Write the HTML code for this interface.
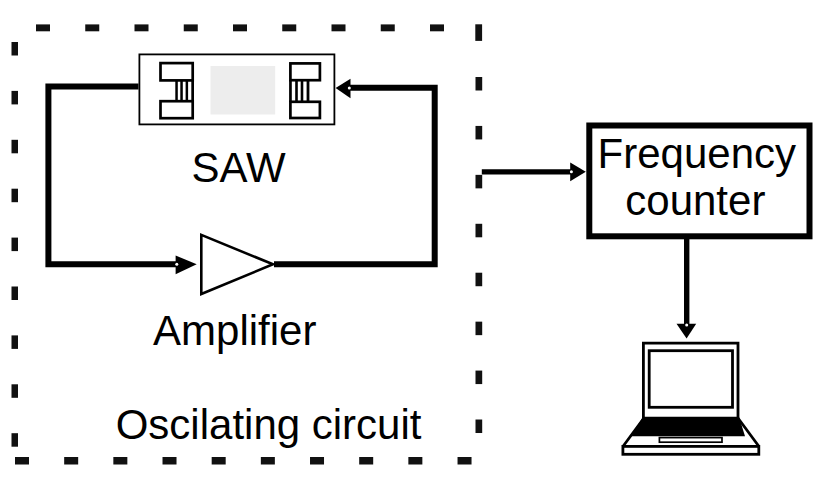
<!DOCTYPE html>
<html><head><meta charset="utf-8"><style>
html,body{margin:0;padding:0;background:#fff;}
svg{display:block;}
text{-webkit-font-smoothing:antialiased;font-family:"Liberation Sans",sans-serif;fill:#000;}
</style></head><body>
<svg width="832" height="482" viewBox="0 0 832 482">
<g fill="#111">
<rect x="36.00" y="24.4" width="14" height="6.9"/>
<rect x="85.25" y="24.4" width="14" height="6.9"/>
<rect x="134.50" y="24.4" width="14" height="6.9"/>
<rect x="183.75" y="24.4" width="14" height="6.9"/>
<rect x="233.00" y="24.4" width="14" height="6.9"/>
<rect x="282.25" y="24.4" width="14" height="6.9"/>
<rect x="331.50" y="24.4" width="14" height="6.9"/>
<rect x="380.75" y="24.4" width="14" height="6.9"/>
<rect x="430.00" y="24.4" width="14" height="6.9"/>
<rect x="11.5" y="42.00" width="6.5" height="13.5"/>
<rect x="11.5" y="90.90" width="6.5" height="13.5"/>
<rect x="11.5" y="139.80" width="6.5" height="13.5"/>
<rect x="11.5" y="188.70" width="6.5" height="13.5"/>
<rect x="11.5" y="237.60" width="6.5" height="13.5"/>
<rect x="11.5" y="286.50" width="6.5" height="13.5"/>
<rect x="11.5" y="335.40" width="6.5" height="13.5"/>
<rect x="11.5" y="384.30" width="6.5" height="13.5"/>
<rect x="11.5" y="433.20" width="6.5" height="13.5"/>
<rect x="15.00" y="457" width="14" height="7.5"/>
<rect x="64.17" y="457" width="14" height="7.5"/>
<rect x="113.34" y="457" width="14" height="7.5"/>
<rect x="162.51" y="457" width="14" height="7.5"/>
<rect x="211.68" y="457" width="14" height="7.5"/>
<rect x="260.85" y="457" width="14" height="7.5"/>
<rect x="310.02" y="457" width="14" height="7.5"/>
<rect x="359.19" y="457" width="14" height="7.5"/>
<rect x="408.36" y="457" width="14" height="7.5"/>
<rect x="457.53" y="457" width="14" height="7.5"/>
<rect x="475.3" y="24.3" width="6.8" height="16.6"/>
<rect x="475.5" y="77.00" width="6.7" height="13.5"/>
<rect x="475.5" y="125.93" width="6.7" height="13.5"/>
<rect x="475.5" y="174.86" width="6.7" height="13.5"/>
<rect x="475.5" y="223.79" width="6.7" height="13.5"/>
<rect x="475.5" y="272.72" width="6.7" height="13.5"/>
<rect x="475.5" y="321.65" width="6.7" height="13.5"/>
<rect x="475.5" y="370.58" width="6.7" height="13.5"/>
<rect x="475.5" y="419.51" width="6.7" height="13.5"/>
</g>
<!-- loop wires -->
<g fill="none" stroke="#000" stroke-width="6" stroke-linejoin="miter" stroke-linecap="butt">
<path d="M138.5 86.5 H48.4 V264.3 H178"/>
<path d="M348 87.8 H434.7 V264.3 H274"/>
</g>
<!-- arrowheads -->
<g fill="#000">
<path d="M335.6 88.1 L350.5 78.7 L350.5 98.3 Z"/>
<path d="M196.7 264.3 L175.6 255.5 L175.6 274.2 Z"/>
<path d="M585.8 171.8 L570.2 162.5 L570.2 181.2 Z"/>
<path d="M686.6 338.5 L676.5 323.7 L696.2 323.7 Z"/>
</g>

<!-- SAW box -->
<rect x="139.4" y="54.4" width="195" height="70" fill="none" stroke="#000" stroke-width="1.8"/>
<rect x="210.5" y="66" width="64.7" height="48.5" fill="#ededed"/>
<!-- IDT left -->
<g fill="none" stroke="#000" stroke-width="2.7">
<rect x="160.5" y="63.1" width="32.2" height="17.3"/>
<rect x="160.5" y="101.2" width="32.2" height="17"/>
</g>
<g fill="#000">
<rect x="175.3" y="80" width="2.5" height="21"/>
<rect x="180.3" y="80" width="2.5" height="21"/>
<rect x="185.6" y="80" width="2.5" height="21"/>
<rect x="191.3" y="80" width="2.7" height="21"/>
</g>
<!-- IDT right -->
<g fill="none" stroke="#000" stroke-width="2.7">
<rect x="290.4" y="63.4" width="29.5" height="16.8" />
<rect x="290.4" y="101.8" width="29.5" height="16.2"/>
</g>
<g fill="#000">
<rect x="289.1" y="80" width="2.7" height="22"/>
<rect x="295.2" y="80" width="2.6" height="22"/>
<rect x="300.7" y="80" width="2.6" height="22"/>
<rect x="306.6" y="80" width="2.8" height="22"/>
</g>
<!-- amplifier -->
<path d="M201.3 234.9 L201.3 294 L273 264.3 Z" fill="#fff" stroke="#000" stroke-width="2.6" stroke-linejoin="miter"/>
<!-- arrow to counter -->
<path d="M481.8 171.8 H572" stroke="#000" stroke-width="5.2" fill="none"/>
<rect x="589.3" y="125.5" width="220.2" height="110.8" fill="none" stroke="#000" stroke-width="6"/>
<path d="M686.7 239 V326" stroke="#000" stroke-width="5.4" fill="none"/>
<!-- laptop -->
<g fill="none" stroke="#000" stroke-width="2.8">
<path d="M643.4 419 V343.2 H738 V419"/>
<rect x="649.2" y="350.7" width="83.3" height="56.6"/>
<path d="M643.6 418.5 L622.9 446.5 M738.3 418.5 L759 446.5"/>
<rect x="622.9" y="446.4" width="135.9" height="7.9"/>
</g>
<path d="M643 416.7 H739 L745 436.2 H631.3 Z" fill="#000"/>
<rect x="659.4" y="437.6" width="62.6" height="4.6" fill="#fff" stroke="#000" stroke-width="1.7"/>
<g fill="#fff">
<circle cx="349.3" cy="88" r="1.5"/>
<circle cx="176.8" cy="264.3" r="1.5"/>
<circle cx="571.4" cy="171.8" r="1.5"/>
<circle cx="686.7" cy="325" r="1.5"/>
</g>
<!-- texts -->
<text x="191.6" y="182" font-size="42">SAW</text>
<text x="153.1" y="345.2" font-size="42">Amplifier</text>
<text x="115.7" y="439.2" font-size="42">Oscilating circuit</text>
<text x="597.6" y="168.4" font-size="42">Frequency</text>
<text x="625.3" y="215.4" font-size="42">counter</text>
</svg>
</body></html>
